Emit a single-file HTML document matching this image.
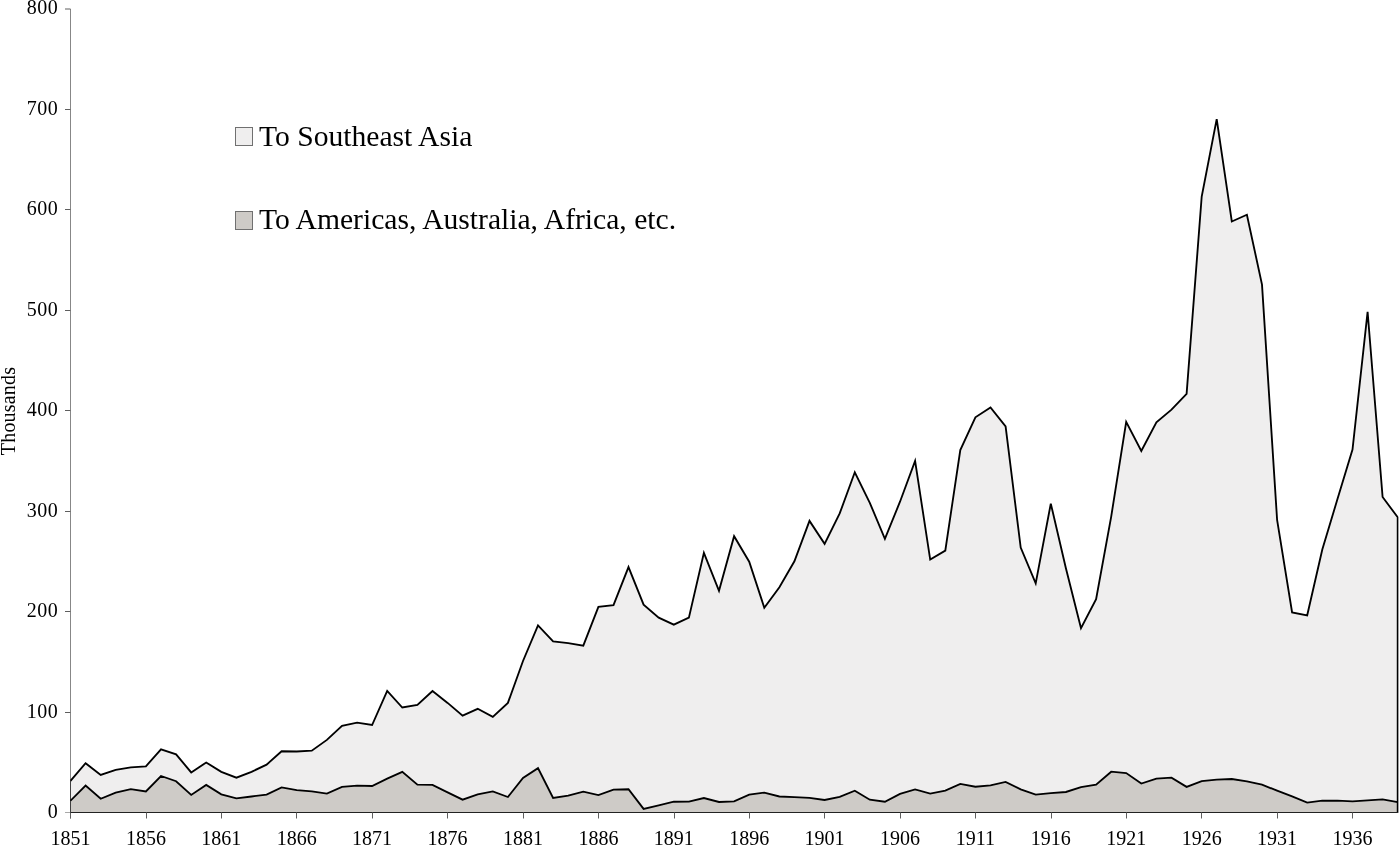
<!DOCTYPE html>
<html><head><meta charset="utf-8"><title>Chart</title>
<style>
html,body{margin:0;padding:0;background:#fff;width:1400px;height:846px;overflow:hidden}
svg{display:block}
text{font-family:"Liberation Serif","Times New Roman",serif;font-size:20px;fill:#000}
text.yl{letter-spacing:0.5px}
text.lg{font-size:29.6px}
.ax{stroke:#878787;stroke-width:1}
.tk{stroke:#5e5e5e;stroke-width:1}
</style></head><body>
<svg width="1400" height="846" viewBox="0 0 1400 846">
<defs>
<clipPath id="pc"><rect x="70" y="0" width="1328.6" height="813"/></clipPath>
</defs>
<rect width="1400" height="846" fill="#fff"/>
<line x1="70.5" y1="9" x2="70.5" y2="818.5" class="ax"/>
<line x1="65" y1="812.50" x2="70.5" y2="812.50" class="tk" style="stroke:#a8a8a8"/>
<text x="58.3" y="817.9" text-anchor="end" class="yl">0</text>
<line x1="65" y1="712.50" x2="70.5" y2="712.50" class="tk"/>
<text x="58.3" y="717.5" text-anchor="end" class="yl">100</text>
<line x1="65" y1="611.50" x2="70.5" y2="611.50" class="tk"/>
<text x="58.3" y="617.0" text-anchor="end" class="yl">200</text>
<line x1="65" y1="511.50" x2="70.5" y2="511.50" class="tk"/>
<text x="58.3" y="516.6" text-anchor="end" class="yl">300</text>
<line x1="65" y1="410.50" x2="70.5" y2="410.50" class="tk"/>
<text x="58.3" y="416.1" text-anchor="end" class="yl">400</text>
<line x1="65" y1="310.50" x2="70.5" y2="310.50" class="tk"/>
<text x="58.3" y="315.7" text-anchor="end" class="yl">500</text>
<line x1="65" y1="209.50" x2="70.5" y2="209.50" class="tk"/>
<text x="58.3" y="215.3" text-anchor="end" class="yl">600</text>
<line x1="65" y1="109.50" x2="70.5" y2="109.50" class="tk"/>
<text x="58.3" y="114.8" text-anchor="end" class="yl">700</text>
<line x1="65" y1="9.00" x2="70.5" y2="9.00" class="tk"/>
<text x="58.3" y="14.4" text-anchor="end" class="yl">800</text>
<polygon points="70.5,812.5 70.5,780.8 85.6,763.2 100.7,775.0 115.7,769.9 130.8,767.3 145.9,766.3 161.0,749.3 176.1,754.4 191.2,772.4 206.2,762.5 221.3,771.8 236.4,777.7 251.5,771.8 266.6,764.6 281.6,751.3 296.7,751.5 311.8,750.7 326.9,739.9 342.0,725.8 357.1,722.6 372.1,725.0 387.2,690.9 402.3,707.5 417.4,705.0 432.5,691.0 447.6,702.9 462.6,715.6 477.7,708.8 492.8,716.9 507.9,702.9 523.0,661.0 538.0,625.4 553.1,641.4 568.2,643.2 583.3,645.7 598.4,606.9 613.5,605.2 628.5,567.1 643.6,604.7 658.7,617.6 673.8,624.7 688.9,617.6 703.9,552.8 719.0,590.8 734.1,536.2 749.2,561.7 764.3,607.7 779.4,587.3 794.4,561.3 809.5,520.9 824.6,543.8 839.7,513.4 854.8,472.3 869.8,502.8 884.9,538.9 900.0,501.7 915.1,460.9 930.2,559.6 945.3,550.6 960.3,450.0 975.4,417.3 990.5,407.5 1005.6,426.3 1020.7,547.6 1035.7,583.3 1050.8,503.6 1065.9,568.2 1081.0,628.2 1096.1,599.2 1111.2,516.6 1126.2,421.9 1141.3,451.0 1156.4,422.3 1171.5,409.6 1186.6,393.9 1201.7,196.5 1216.7,119.1 1231.8,221.5 1246.9,214.7 1262.0,284.6 1277.1,519.8 1292.1,612.4 1307.2,615.3 1322.3,549.5 1337.4,499.3 1352.5,449.5 1367.6,311.8 1382.6,497.0 1397.7,517.3 1397.7,812.5" fill="#efeeee" stroke="none"/>
<polygon points="70.5,812.5 70.5,800.7 85.6,785.5 100.7,798.8 115.7,792.7 130.8,789.1 145.9,791.5 161.0,776.0 176.1,781.2 191.2,794.9 206.2,784.9 221.3,794.3 236.4,798.4 251.5,796.5 266.6,794.6 281.6,787.4 296.7,790.1 311.8,791.4 326.9,793.6 342.0,786.9 357.1,785.7 372.1,786.0 387.2,778.6 402.3,771.8 417.4,784.7 432.5,784.8 447.6,792.4 462.6,799.7 477.7,794.4 492.8,791.4 507.9,797.0 523.0,777.9 538.0,768.2 553.1,798.0 568.2,795.7 583.3,791.6 598.4,795.1 613.5,789.6 628.5,789.3 643.6,808.9 658.7,805.4 673.8,801.7 688.9,801.6 703.9,798.0 719.0,802.0 734.1,801.4 749.2,794.6 764.3,792.6 779.4,796.5 794.4,797.1 809.5,797.9 824.6,800.0 839.7,796.9 854.8,790.7 869.8,799.7 884.9,801.7 900.0,793.9 915.1,789.4 930.2,793.6 945.3,790.7 960.3,783.9 975.4,786.7 990.5,785.4 1005.6,781.9 1020.7,789.3 1035.7,794.6 1050.8,793.1 1065.9,792.0 1081.0,787.1 1096.1,784.7 1111.2,771.7 1126.2,773.1 1141.3,783.6 1156.4,778.6 1171.5,777.6 1186.6,786.9 1201.7,781.1 1216.7,779.6 1231.8,779.0 1246.9,781.4 1262.0,784.6 1277.1,790.7 1292.1,796.4 1307.2,802.6 1322.3,800.7 1337.4,800.7 1352.5,801.4 1367.6,800.4 1382.6,799.4 1397.7,802.2 1397.7,812.5" fill="#cecbc7" stroke="none"/>
<line x1="70.5" y1="780.8" x2="70.5" y2="812.5" stroke="#404040" stroke-width="1"/>
<polyline clip-path="url(#pc)" points="70.5,780.8 85.6,763.2 100.7,775.0 115.7,769.9 130.8,767.3 145.9,766.3 161.0,749.3 176.1,754.4 191.2,772.4 206.2,762.5 221.3,771.8 236.4,777.7 251.5,771.8 266.6,764.6 281.6,751.3 296.7,751.5 311.8,750.7 326.9,739.9 342.0,725.8 357.1,722.6 372.1,725.0 387.2,690.9 402.3,707.5 417.4,705.0 432.5,691.0 447.6,702.9 462.6,715.6 477.7,708.8 492.8,716.9 507.9,702.9 523.0,661.0 538.0,625.4 553.1,641.4 568.2,643.2 583.3,645.7 598.4,606.9 613.5,605.2 628.5,567.1 643.6,604.7 658.7,617.6 673.8,624.7 688.9,617.6 703.9,552.8 719.0,590.8 734.1,536.2 749.2,561.7 764.3,607.7 779.4,587.3 794.4,561.3 809.5,520.9 824.6,543.8 839.7,513.4 854.8,472.3 869.8,502.8 884.9,538.9 900.0,501.7 915.1,460.9 930.2,559.6 945.3,550.6 960.3,450.0 975.4,417.3 990.5,407.5 1005.6,426.3 1020.7,547.6 1035.7,583.3 1050.8,503.6 1065.9,568.2 1081.0,628.2 1096.1,599.2 1111.2,516.6 1126.2,421.9 1141.3,451.0 1156.4,422.3 1171.5,409.6 1186.6,393.9 1201.7,196.5 1216.7,119.1 1231.8,221.5 1246.9,214.7 1262.0,284.6 1277.1,519.8 1292.1,612.4 1307.2,615.3 1322.3,549.5 1337.4,499.3 1352.5,449.5 1367.6,311.8 1382.6,497.0 1397.7,517.3 1397.7,812.5" fill="none" stroke="#000" stroke-width="1.85" stroke-linejoin="miter"/>
<polyline clip-path="url(#pc)" points="70.5,800.7 85.6,785.5 100.7,798.8 115.7,792.7 130.8,789.1 145.9,791.5 161.0,776.0 176.1,781.2 191.2,794.9 206.2,784.9 221.3,794.3 236.4,798.4 251.5,796.5 266.6,794.6 281.6,787.4 296.7,790.1 311.8,791.4 326.9,793.6 342.0,786.9 357.1,785.7 372.1,786.0 387.2,778.6 402.3,771.8 417.4,784.7 432.5,784.8 447.6,792.4 462.6,799.7 477.7,794.4 492.8,791.4 507.9,797.0 523.0,777.9 538.0,768.2 553.1,798.0 568.2,795.7 583.3,791.6 598.4,795.1 613.5,789.6 628.5,789.3 643.6,808.9 658.7,805.4 673.8,801.7 688.9,801.6 703.9,798.0 719.0,802.0 734.1,801.4 749.2,794.6 764.3,792.6 779.4,796.5 794.4,797.1 809.5,797.9 824.6,800.0 839.7,796.9 854.8,790.7 869.8,799.7 884.9,801.7 900.0,793.9 915.1,789.4 930.2,793.6 945.3,790.7 960.3,783.9 975.4,786.7 990.5,785.4 1005.6,781.9 1020.7,789.3 1035.7,794.6 1050.8,793.1 1065.9,792.0 1081.0,787.1 1096.1,784.7 1111.2,771.7 1126.2,773.1 1141.3,783.6 1156.4,778.6 1171.5,777.6 1186.6,786.9 1201.7,781.1 1216.7,779.6 1231.8,779.0 1246.9,781.4 1262.0,784.6 1277.1,790.7 1292.1,796.4 1307.2,802.6 1322.3,800.7 1337.4,800.7 1352.5,801.4 1367.6,800.4 1382.6,799.4 1397.7,802.2" fill="none" stroke="#000" stroke-width="1.85" stroke-linejoin="miter"/>
<line x1="70.0" y1="812.5" x2="1398.2" y2="812.5" stroke="#222" stroke-width="1.2"/>
<line x1="70.5" y1="812.5" x2="70.5" y2="818.5" class="tk"/>
<text x="70.5" y="844.5" text-anchor="middle">1851</text>
<line x1="146.5" y1="812.5" x2="146.5" y2="818.5" class="tk"/>
<text x="145.9" y="844.5" text-anchor="middle">1856</text>
<line x1="221.5" y1="812.5" x2="221.5" y2="818.5" class="tk"/>
<text x="221.3" y="844.5" text-anchor="middle">1861</text>
<line x1="296.5" y1="812.5" x2="296.5" y2="818.5" class="tk"/>
<text x="296.7" y="844.5" text-anchor="middle">1866</text>
<line x1="372.5" y1="812.5" x2="372.5" y2="818.5" class="tk"/>
<text x="372.1" y="844.5" text-anchor="middle">1871</text>
<line x1="447.5" y1="812.5" x2="447.5" y2="818.5" class="tk"/>
<text x="447.6" y="844.5" text-anchor="middle">1876</text>
<line x1="523.5" y1="812.5" x2="523.5" y2="818.5" class="tk"/>
<text x="523.0" y="844.5" text-anchor="middle">1881</text>
<line x1="598.5" y1="812.5" x2="598.5" y2="818.5" class="tk"/>
<text x="598.4" y="844.5" text-anchor="middle">1886</text>
<line x1="674.5" y1="812.5" x2="674.5" y2="818.5" class="tk"/>
<text x="673.8" y="844.5" text-anchor="middle">1891</text>
<line x1="749.5" y1="812.5" x2="749.5" y2="818.5" class="tk"/>
<text x="749.2" y="844.5" text-anchor="middle">1896</text>
<line x1="824.5" y1="812.5" x2="824.5" y2="818.5" class="tk"/>
<text x="824.6" y="844.5" text-anchor="middle">1901</text>
<line x1="900.5" y1="812.5" x2="900.5" y2="818.5" class="tk"/>
<text x="900.0" y="844.5" text-anchor="middle">1906</text>
<line x1="975.5" y1="812.5" x2="975.5" y2="818.5" class="tk"/>
<text x="975.4" y="844.5" text-anchor="middle">1911</text>
<line x1="1051.5" y1="812.5" x2="1051.5" y2="818.5" class="tk"/>
<text x="1050.8" y="844.5" text-anchor="middle">1916</text>
<line x1="1126.5" y1="812.5" x2="1126.5" y2="818.5" class="tk"/>
<text x="1126.2" y="844.5" text-anchor="middle">1921</text>
<line x1="1201.5" y1="812.5" x2="1201.5" y2="818.5" class="tk"/>
<text x="1201.7" y="844.5" text-anchor="middle">1926</text>
<line x1="1277.5" y1="812.5" x2="1277.5" y2="818.5" class="tk"/>
<text x="1277.1" y="844.5" text-anchor="middle">1931</text>
<line x1="1352.5" y1="812.5" x2="1352.5" y2="818.5" class="tk"/>
<text x="1352.5" y="844.5" text-anchor="middle">1936</text>
<text x="15" y="411" transform="rotate(-90 15 411)" text-anchor="middle" style="letter-spacing:0.2px">Thousands</text>
<rect x="235.5" y="127.5" width="17" height="18" fill="#efeeee" stroke="#707070" stroke-width="1"/>
<text x="259" y="145.5" class="lg">To Southeast Asia</text>
<rect x="235.5" y="211.5" width="17" height="18" fill="#cecbc7" stroke="#707070" stroke-width="1"/>
<text x="259" y="228.8" class="lg">To Americas, Australia, Africa, etc.</text>
</svg>
</body></html>
